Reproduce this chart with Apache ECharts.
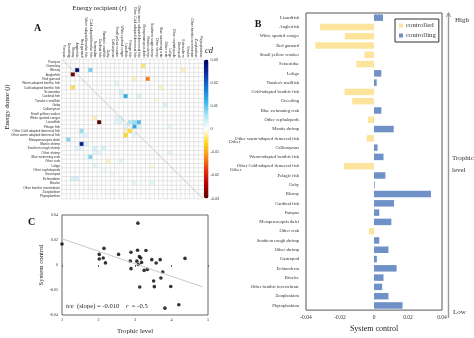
<!DOCTYPE html>
<html><head><meta charset="utf-8">
<script src="https://cdn.jsdelivr.net/npm/echarts@6/dist/echarts.min.js"></script>
<style>html,body{margin:0;padding:0;background:#fff}#c{width:474px;height:338px}</style>
</head><body><div id="c"></div><script>
// Functional groups used as energy donors (rows) and recipients (columns)
const groups = ["Pampus","Greenling","Blenny","Anglerfish","Red gurnard","Warm adapted benthic fish","Cold adapted benthic fish","Sciaenidae","Cardinal fish","Tanaka's snailfish","Goby","Callionymus","Small yellow croaker","White spotted conger","Lizardfish","Pelagic fish","Other Cold adapted demersal fish","Other warm adapted demersal fish","Metapenaeopsis dalei","Mantis shrimp","Southern rough shrimp","Other shrimp","Blue swimming crab","Other crab","Loligo","Other cephalopods","Gastropod","Echinoderm","Bivalve","Other benthic invertebrate","Zooplankton","Phytoplankton"];

// Non-zero control difference cd: [donor row, recipient column, cd]
const cdCells = [
 [1,18,-0.004],[2,3,0.028],[2,6,0.009],[2,27,-0.002],[3,2,-0.028],[4,16,-0.002],[4,19,-0.013],
 [5,12,0.002],[6,2,-0.005],[6,22,-0.002],[7,13,0.003],[8,13,0.002],[8,14,0.013],[8,17,0.003],
 [9,21,-0.001],[10,23,0.003],[13,7,-0.002],[13,12,0.002],[13,13,0.002],[14,8,-0.03],
 [14,12,0.002],[14,13,0.002],[14,15,0.006],[14,16,0.007],[14,17,0.011],[15,14,0.002],
 [15,16,0.013],[15,17,0.003],[15,24,0.002],[16,4,0.007],[16,14,-0.002],[16,15,-0.005],
 [17,4,0.002],[17,5,0.002],[17,14,-0.006],[17,16,0.002],[18,1,0.008],[19,4,0.026],[19,5,0.002],
 [20,3,0.002],[20,4,0.002],[20,7,0.003],[20,9,0.003],[21,7,0.002],[21,8,0.002],[21,24,0.002],
 [22,5,0.001],[22,6,0.008],[23,10,-0.002],[23,13,0.002],[24,7,0.002],[24,20,-0.001],
 [25,9,0.001],[26,11,0.001],[27,2,0.003],[27,3,0.003],[27,13,0.001],[28,16,0.002],
 [28,20,0.002],[29,6,0.001],[30,11,0.001]
];
const cdTicks = [-0.03, 0.03, 0.01];

// System control per group, ordered from high to low trophic level
const barGroups = ["Lizardfish","Anglerfish","White spotted conger","Red gurnard","Small yellow croaker","Sciaenidae","Loligo","Tanaka's snailfish","Cold-adapted benthic fish","Greenling","Blue swimming crab","Other cephalopods","Mantis shrimp","Other warm-adapted demersal fish","Callionymus","Warm-adapted benthic fish","Other Cold-adapted demersal fish","Pelagic fish","Goby","Blenny","Cardinal fish","Pampus","Metapenaeopsis dalei","Other crab","Southern rough shrimp","Other shrimp","Gastropod","Echinoderm","Bivalve","Other benthic invertebrate","Zooplankton","Phytoplankton"];
const systemControl = [0.0053,-0.0318,-0.0172,-0.0345,-0.0056,-0.0104,0.0043,0.0016,-0.0173,-0.0128,0.0043,-0.0035,0.0116,-0.0043,0.0021,0.0056,-0.0176,0.0067,0.0004,0.0335,0.0118,0.0031,0.0102,-0.0029,0.0031,0.0085,0.0017,0.0133,0.0056,0.0048,0.0085,0.0168];
const trophicLevel = [4.37,4.20,3.98,3.82,3.76,3.71,3.69,3.58,3.53,3.51,3.46,3.34,3.30,3.25,3.18,3.16,3.13,3.12,3.09,3.08,3.07,3.05,2.89,2.89,2.87,2.55,2.19,2.15,2.13,2.02,2.02,1.00];
const controlTicks = [-0.04, 0.04, 0.02];
const trophicTicks = [1, 5, 1];

// Linear fit of system control on trophic level
const trendSlope = -0.010, trendIntercept = 0.031, trendRange = [1, 4.85];
const trendR = -0.5;

const serif = 'Liberation Serif';
const sans = 'Liberation Sans';

const heatData = [];
for (let r = 0; r < groups.length; r++)
  for (let c = 0; c < groups.length; c++) heatData.push([c, r, 0]);
cdCells.forEach(([r, c, v]) => { heatData[r * groups.length + c][2] = v; });

const controlled = systemControl.map(v => v < 0 ? v : null);
const controlling = systemControl.map(v => v >= 0 ? v : null);
const scatterData = trophicLevel.map((t, i) => [t, systemControl[i]]);
const trendData = trendRange.map(x => [x, trendIntercept + trendSlope * x]);

const HX = 62, HY = 59.5, HW = 141, HH = 139;

const chart = echarts.init(document.getElementById('c'), null, {renderer: 'canvas'});
chart.setOption({
  animation: false,
  textStyle: {fontFamily: serif},
  grid: [
    {left: HX, top: HY, width: HW, height: HH},
    {left: HX, top: HY, width: HW, height: HH},
    {left: 204, top: HY, width: 4.5, height: HH},
    {left: 306, top: 13, width: 136, height: 305, show: true, borderColor: '#555', borderWidth: 1},
    {left: 62, top: 215, width: 146, height: 100, show: true, borderColor: '#666', borderWidth: 1}
  ],
  xAxis: [
    {gridIndex: 0, type: 'category', data: groups, position: 'top',
     axisLine: {show: false}, axisTick: {show: false}, splitLine: {show: false},
     axisLabel: {rotate: 90, interval: 0, fontSize: 3.4, fontFamily: sans, color: '#333', margin: 2}},
    {gridIndex: 1, type: 'value', min: 0, max: 1, show: false},
    {gridIndex: 2, type: 'value', min: 0, max: 1, show: false},
    {gridIndex: 3, type: 'value', min: controlTicks[0], max: controlTicks[1], interval: controlTicks[2],
     axisLine: {show: false}, axisTick: {show: false}, splitLine: {show: false},
     axisLabel: {fontSize: 5.5, color: '#333', margin: 4},
     name: 'System control', nameLocation: 'middle', nameGap: 13,
     nameTextStyle: {fontSize: 8, color: '#222'}},
    {gridIndex: 4, type: 'value', min: trophicTicks[0], max: trophicTicks[1], interval: trophicTicks[2],
     axisLine: {show: false}, axisTick: {show: true, length: 2, lineStyle: {color: '#666'}}, splitLine: {show: false},
     axisLabel: {fontSize: 4.2, color: '#333', margin: 3},
     name: 'Trophic level', nameLocation: 'middle', nameGap: 13,
     nameTextStyle: {fontSize: 6.8, color: '#222'}}
  ],
  yAxis: [
    {gridIndex: 0, type: 'category', data: groups, inverse: true,
     axisLine: {show: false}, axisTick: {show: false}, splitLine: {show: false},
     axisLabel: {interval: 0, fontSize: 3.2, fontFamily: sans, color: '#333', margin: 2}},
    {gridIndex: 1, type: 'value', min: 0, max: 1, show: false},
    {gridIndex: 2, type: 'value', min: cdTicks[0], max: cdTicks[1], interval: cdTicks[2], position: 'right',
     axisLine: {show: false}, axisTick: {show: false}, splitLine: {show: false},
     axisLabel: {fontSize: 3.8, fontFamily: sans, color: '#333', margin: 2}},
    {gridIndex: 3, type: 'category', data: barGroups, inverse: true,
     axisLine: {show: false}, axisTick: {show: false}, splitLine: {show: false},
     axisLabel: {interval: 0, fontSize: 4.6, color: '#333', margin: 7}},
    {gridIndex: 4, type: 'value', min: controlTicks[0], max: controlTicks[1], interval: controlTicks[2],
     axisLine: {show: false}, axisTick: {show: false}, splitLine: {show: false},
     axisLabel: {fontSize: 4, color: '#333', margin: 4},
     name: 'System control', nameLocation: 'middle', nameGap: 17, nameRotate: 90,
     nameTextStyle: {fontSize: 6.8, color: '#222'}}
  ],
  visualMap: {
    type: 'continuous', seriesIndex: 0, min: cdTicks[0], max: cdTicks[1],
    left: 204, top: HY, itemWidth: 4.5, itemHeight: HH, padding: 0,
    calculable: false, text: null, orient: 'vertical',
    inRange: {color: ['#5c0000','#b00000','#e63010','#f88c1c','#ffd820','#ffffff','#a8e6f8','#36b6ec','#1874d6','#0a2ea6','#00005e']}
  },
  legend: {
    data: ['controlled', 'controlling'], orient: 'vertical', left: 395, top: 19,
    padding: [3, 3, 3, 4], itemGap: 3, itemWidth: 4, itemHeight: 4, icon: 'rect',
    borderColor: '#333', borderWidth: 1,
    textStyle: {fontSize: 6.8, fontFamily: serif, color: '#333', padding: [0, 0, 0, -2]}
  },
  series: [
    {type: 'heatmap', xAxisIndex: 0, yAxisIndex: 0, data: heatData,
     itemStyle: {borderColor: '#d2d2d2', borderWidth: 0.5}},
    {type: 'line', xAxisIndex: 1, yAxisIndex: 1, data: [[0, 1], [1, 0]], symbol: 'none',
     lineStyle: {color: '#bdbdbd', width: 0.7}},
    {name: 'controlled', type: 'bar', xAxisIndex: 3, yAxisIndex: 3, data: controlled,
     barWidth: 6.5, barGap: '-100%', itemStyle: {color: '#fde49c'}},
    {name: 'controlling', type: 'bar', xAxisIndex: 3, yAxisIndex: 3, data: controlling,
     barWidth: 6.5, barGap: '-100%', itemStyle: {color: '#7090c8'}},
    {type: 'line', xAxisIndex: 4, yAxisIndex: 4, data: trendData, symbol: 'none',
     lineStyle: {color: '#c8c8c8', width: 1}},
    {type: 'scatter', xAxisIndex: 4, yAxisIndex: 4, data: scatterData, symbolSize: 3.6,
     itemStyle: {color: '#000'}}
  ],
  graphic: [
    {type: 'text', x: 37.5, y: 28, style: {text: 'A', font: 'bold 10px ' + serif, fill: '#111', textAlign: 'center', textVerticalAlign: 'middle'}},
    {type: 'text', x: 258, y: 24, style: {text: 'B', font: 'bold 10px ' + serif, fill: '#111', textAlign: 'center', textVerticalAlign: 'middle'}},
    {type: 'text', x: 31.5, y: 222.5, style: {text: 'C', font: 'bold 10px ' + serif, fill: '#111', textAlign: 'center', textVerticalAlign: 'middle'}},
    {type: 'text', x: 99.5, y: 8, style: {text: '{n|Energy recipient (}{i|r}{n|)}', textAlign: 'center', textVerticalAlign: 'middle',
      rich: {n: {fontSize: 6.8, fontFamily: serif, fill: '#222'}, i: {fontSize: 6.8, fontFamily: serif, fontStyle: 'italic', fill: '#222'}}}},
    {type: 'text', x: 7, y: 107, rotation: Math.PI / 2, style: {text: '{n|Energy donor (}{i|j}{n|)}', textAlign: 'center', textVerticalAlign: 'middle',
      rich: {n: {fontSize: 6.8, fontFamily: serif, fill: '#222'}, i: {fontSize: 6.8, fontFamily: serif, fontStyle: 'italic', fill: '#222'}}}},
    {type: 'text', x: 205, y: 51, style: {text: 'cd', font: 'italic 8.5px ' + serif, fill: '#222', textVerticalAlign: 'middle'}},
    {type: 'text', x: 229, y: 142, style: {text: 'Other', font: '5px ' + serif, fill: '#444', textVerticalAlign: 'middle'}},
    {type: 'text', x: 230, y: 170, style: {text: 'Other', font: '5px ' + serif, fill: '#444', textVerticalAlign: 'middle'}},
    {type: 'text', x: 66, y: 306, style: {
      text: '{i|tce} {n|(slope) = ' + trendSlope.toFixed(3) + '    }{i|r} {n|= ' + trendR + '}', textVerticalAlign: 'middle',
      rich: {n: {fontSize: 6.6, fontFamily: serif, fill: '#222'}, i: {fontSize: 6.6, fontFamily: serif, fontStyle: 'italic', fill: '#222'}}}},
    // trophic level arrow beside panel B
    {type: 'line', shape: {x1: 448.5, y1: 318, x2: 448.5, y2: 13}, style: {stroke: '#999', lineWidth: 1.4}},
    {type: 'polyline', shape: {points: [[446.3, 17], [448.5, 12.5], [450.7, 17]]}, style: {stroke: '#999', lineWidth: 1, fill: null}},
    {type: 'text', x: 455, y: 20, style: {text: 'High', font: '7px ' + serif, fill: '#333', textVerticalAlign: 'middle'}},
    {type: 'text', x: 452, y: 158, style: {text: 'Trophic', font: '7px ' + serif, fill: '#333', textVerticalAlign: 'middle'}},
    {type: 'text', x: 452, y: 170, style: {text: 'level', font: '7px ' + serif, fill: '#333', textVerticalAlign: 'middle'}},
    {type: 'text', x: 453, y: 312, style: {text: 'Low', font: '7px ' + serif, fill: '#333', textVerticalAlign: 'middle'}}
  ]
});
</script></body></html>
